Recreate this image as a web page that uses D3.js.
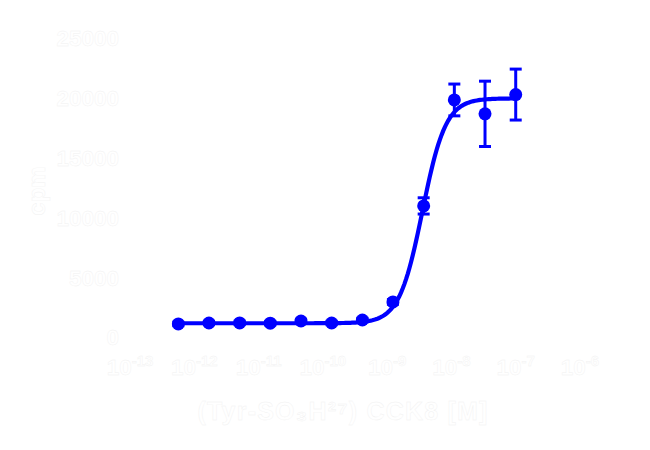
<!DOCTYPE html>
<html>
<head>
<meta charset="utf-8">
<script src="https://cdn.jsdelivr.net/npm/d3@7"></script>
<style>
html,body{margin:0;padding:0;background:#fff;}
svg{display:block;}
text{font-family:"Liberation Sans",Arial,sans-serif;font-weight:bold;fill:#fff;stroke:#f1f1f1;stroke-width:0.4px;}
</style>
</head>
<body>
<svg id="chart" width="650" height="450"></svg>
<script>
// Concentrations (M), 3-fold dilution series
const concentrations = [5.65e-13, 1.69e-12, 5.08e-12, 1.52e-11, 4.57e-11, 1.37e-10, 4.12e-10, 1.23e-9, 3.70e-9, 1.11e-8, 3.33e-8, 1.0e-7];
const meanValues = [1090, 1170, 1180, 1160, 1340, 1170, 1420, 2930, 10960, 19820, 18660, 20270];
const errValues = [150, 150, 150, 150, 150, 150, 150, 200, 680, 1330, 2730, 2130];
// Fitted sigmoid (4-parameter logistic) parameters
const fitBottom = 1150, fitTop = 19950, fitLogEC50 = -8.45, fitHill = 2.4;
const xTickExps = [-13, -12, -11, -10, -9, -8, -7, -6];
const yTicks = [0, 5000, 10000, 15000, 20000, 25000];
const xTitle = "(Tyr-SO₃H²⁷) CCK8 [M]";
const yTitle = "cpm";

const svg = d3.select("#chart");
const x = d3.scaleLog().domain([1e-13, 1e-6]).range([130, 580]);
const y = d3.scaleLinear().domain([0, 25000]).range([337, 38]);
const blue = "#0000ff";

// axes (white, as in reference)
const yAxisX = 126, xAxisY = 346;
const yAxis = d3.axisLeft(y).tickValues(yTicks).tickSize(6).tickFormat(d3.format("d"));
const gy = svg.append("g").attr("transform", `translate(${yAxisX},0)`).call(yAxis);
gy.selectAll("path,line").attr("stroke", "#fff").attr("stroke-width", 2);
gy.selectAll("text").attr("x", -7).style("font-size", "22.5px").attr("dy", "0.35em");

const xAxis = d3.axisBottom(x).tickValues(xTickExps.map(e => Math.pow(10, e))).tickSize(6).tickFormat("");
const gx = svg.append("g").attr("transform", `translate(0,${xAxisY})`).call(xAxis);
gx.selectAll("path,line").attr("stroke", "#fff").attr("stroke-width", 2);
xTickExps.forEach(e => {
  const t = svg.append("text").attr("x", x(Math.pow(10, e))).attr("y", 375)
    .attr("text-anchor", "middle").style("font-size", "22.5px");
  t.append("tspan").text("10");
  t.append("tspan").attr("dy", -9).style("font-size", "15px").text("-" + Math.abs(e));
});

// axis titles
svg.append("text").attr("x", 343).attr("y", 420).attr("text-anchor", "middle")
  .style("font-size", "25px").style("letter-spacing", "1.2px").text(xTitle);
svg.append("text").attr("transform", "translate(45,191) rotate(-90)").attr("text-anchor", "middle")
  .style("font-size", "24px").text(yTitle);

// fitted curve
const logMin = Math.log10(concentrations[0]), logMax = Math.log10(concentrations[concentrations.length - 1]);
const curvePts = d3.range(0, 201).map(i => {
  const lx = logMin + (logMax - logMin) * i / 200;
  return [Math.pow(10, lx), fitBottom + (fitTop - fitBottom) / (1 + Math.pow(10, (fitLogEC50 - lx) * fitHill))];
});
svg.append("path").datum(curvePts)
  .attr("d", d3.line().x(d => x(d[0])).y(d => y(d[1])).curve(d3.curveLinear))
  .attr("fill", "none").attr("stroke", blue).attr("stroke-width", 4.2).attr("stroke-linecap", "round");

// error bars
const data = concentrations.map((c, i) => ({c, v: meanValues[i], e: errValues[i]}));
const eb = svg.append("g").attr("stroke", blue).attr("stroke-width", 3);
data.forEach(d => {
  const cx = x(d.c);
  eb.append("line").attr("x1", cx).attr("x2", cx).attr("y1", y(d.v + d.e)).attr("y2", y(d.v - d.e));
  eb.append("line").attr("x1", cx - 6).attr("x2", cx + 6).attr("y1", y(d.v + d.e)).attr("y2", y(d.v + d.e));
  eb.append("line").attr("x1", cx - 6).attr("x2", cx + 6).attr("y1", y(d.v - d.e)).attr("y2", y(d.v - d.e));
});

// points
svg.append("g").selectAll("circle").data(data).join("circle")
  .attr("cx", d => x(d.c)).attr("cy", d => y(d.v)).attr("r", 6.5).attr("fill", blue);
</script>
</body>
</html>
